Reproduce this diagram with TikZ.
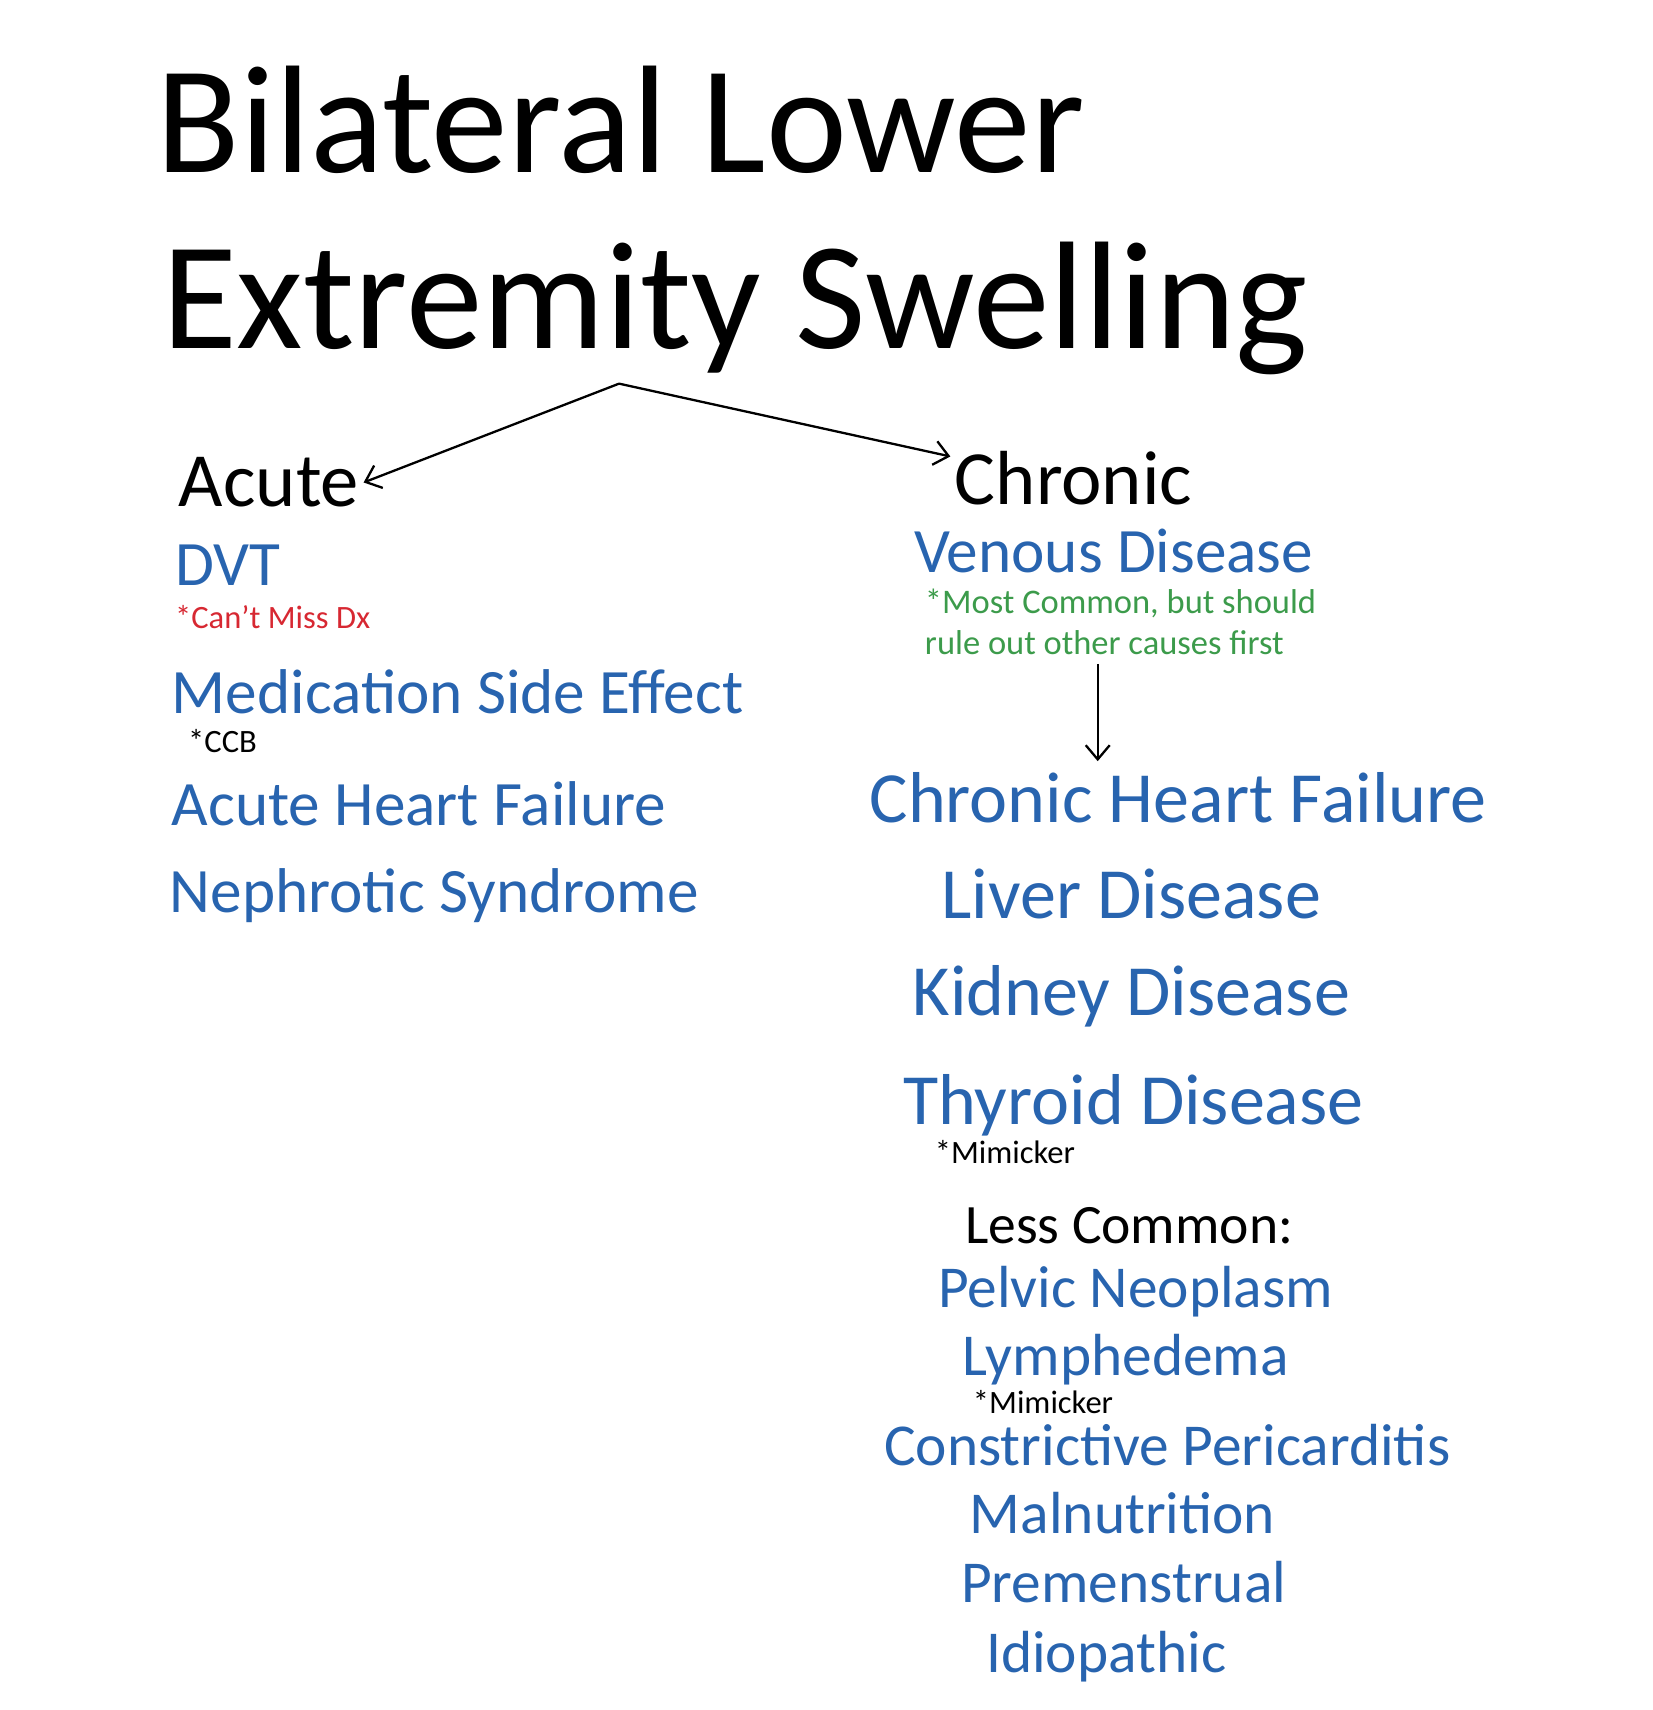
\documentclass[tikz,border=0pt]{standalone}
\usepackage{fontspec}
\setmainfont{Carlito}
\usepackage{tikz}
\usetikzlibrary{arrows.meta, positioning}
\usepackage{xcolor}
\definecolor{dxblue}{RGB}{40,100,175}
\definecolor{dxred}{RGB}{215,40,50}
\definecolor{dxgreen}{RGB}{60,155,75}

\begin{document}
\begin{tikzpicture}[x=0.01cm, y=-0.01cm,
              title/.style={font=\fontsize{40}{48}\selectfont, inner sep=0pt},
              head/.style={font=\fontsize{20}{24}\selectfont, inner sep=1pt},
              item/.style={text=dxblue, font=\fontsize{16.5}{20}\selectfont, inner sep=0pt},
              bigitem/.style={text=dxblue, font=\fontsize{18.8}{22}\selectfont, inner sep=0pt},
              listitem/.style={text=dxblue, font=\fontsize{15.5}{19}\selectfont, inner sep=0pt},
              note/.style={font=\fontsize{8.5}{10}\selectfont, inner sep=0pt, align=left},
              arrow/.style={-{Straight Barb[length=1.3mm, width=2.2mm]}, line width=0.6pt}
            ]
            \useasboundingbox (0,0) rectangle (1516,1569);

            % Titel
            \node[title, anchor=base west] (title1) at (143,158) {Bilateral Lower};
            \node[title, anchor=base west] (title2) at (148,320) {Extremity Swelling};
            \coordinate (fork) at (568,352);

            % Acute / Chronic
            \node[head, anchor=base west] (acute) at (160,465) {Acute};
            \node[head, anchor=base west] (chronic) at (872,463) {Chronic};
            \draw[arrow] (fork) -- (acute.east);
            \draw[arrow] (fork) -- ([yshift=0.2cm]chronic.west);

            % Akute Ursachen
            \node[item, anchor=base west] (dvt) at (160,537) {DVT};
            \node[note, text=dxred, anchor=base west] (dvtnote) at (160,577) {*Can't Miss Dx};
            \node[item, anchor=base west] (med) at (157,655) {Medication Side Effect};
            \node[note, anchor=base west] (mednote) at (172,690) {*CCB};
            \node[item, anchor=base west] (ahf) at (157,757) {Acute Heart Failure};
            \node[item, anchor=base west] (nephro) at (155,837) {Nephrotic Syndrome};

            % Chronische Ursachen
            \node[item, anchor=base west] (venous) at (838,525) {Venous Disease};
            \node[note, text=dxgreen, font=\fontsize{9}{10.5}\selectfont, anchor=north west] (venousnote) at (848,540)
              {*Most Common, but should\\rule out other causes first};
            \node[bigitem, anchor=base] (chf) at (1081,755) {Chronic Heart Failure};
            \draw[arrow, shorten <=0.08cm, shorten >=0.1cm] ([xshift=-0.21cm]venousnote.south) -- ([xshift=-0.21cm]venousnote.south |- chf.north);
            \node[bigitem, anchor=base] (liver) at (1038,843) {Liver Disease};
            \node[bigitem, anchor=base] (kidney) at (1038,932) {Kidney Disease};
            \node[bigitem, anchor=base] (thyroid) at (1040,1032) {Thyroid Disease};
            \node[note, anchor=base west] (thyroidnote) at (857,1068) {*Mimicker};

            % Seltener
            \node[font=\fontsize{14.5}{18}\selectfont, inner sep=0pt, anchor=base] (less) at (1036,1141) {Less Common:};
            \node[listitem, anchor=base] (pelvic) at (1042,1200) {Pelvic Neoplasm};
            \node[listitem, anchor=base] (lymph) at (1033,1262) {Lymphedema};
            \node[note, anchor=base west] (lymphnote) at (892,1297) {*Mimicker};
            \node[listitem, anchor=base] (constr) at (1071,1345) {Constrictive Pericarditis};
            \node[listitem, anchor=base] (malnut) at (1030,1407) {Malnutrition};
            \node[listitem, anchor=base] (premens) at (1031,1470) {Premenstrual};
            \node[listitem, anchor=base] (idio) at (1015,1535) {Idiopathic};

            \end{tikzpicture}
\end{document}
